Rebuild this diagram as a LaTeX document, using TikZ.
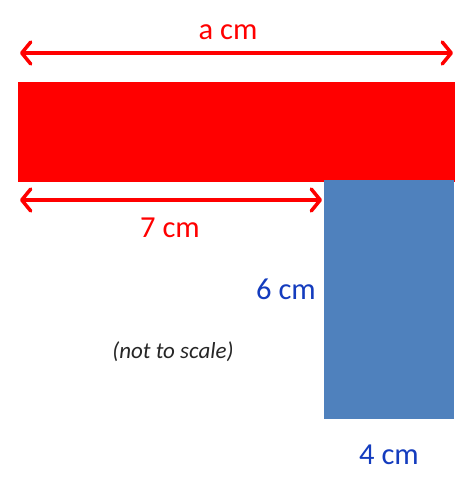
\documentclass[tikz,border=0pt]{standalone}
\usepackage{fontspec}
\setmainfont{Carlito}
\usetikzlibrary{arrows.meta}
\definecolor{myred}{RGB}{255,0,0}
\definecolor{myblue}{RGB}{79,129,189}
\definecolor{txtblue}{RGB}{20,60,190}
\tikzset{
  dimarrow/.style={draw=myred, line width=3.5pt, line cap=round,
    {Straight Barb[length=9pt,width=22pt,line cap=round,line join=round]}-{Straight Barb[length=9pt,width=22pt,line cap=round,line join=round]}},
  redlbl/.style={text=myred, font=\fontsize{30.5}{33}\selectfont, inner sep=0pt},
  bluelbl/.style={text=txtblue, font=\fontsize{30.5}{33}\selectfont, inner sep=0pt},
  note/.style={text=black!85, font=\fontsize{23}{26}\selectfont\itshape, inner sep=0pt}
}
\begin{document}
\begin{tikzpicture}[x=1pt,y=1pt]
\useasboundingbox (0,0) rectangle (474,480);
\fill[myred] (18,298) rectangle (455,398);
\fill[myblue] (324,61) rectangle (454,300);
\coordinate (a1) at (20,427);
\coordinate (a2) at (453,427);
\coordinate (b1) at (20,280);
\coordinate (b2) at (322,280);
\draw[dimarrow] (a1) -- (a2);
\draw[dimarrow] (b1) -- (b2);
\node[redlbl] (la) at (228,448) {a cm};
\node[redlbl] (l7) at (170,252) {7 cm};
\node[bluelbl] (l6) at (286,191) {6 cm};
\node[bluelbl] (l4) at (389,25) {4 cm};
\node[note] (ns) at (173,128) {(not to scale)};
\end{tikzpicture}
\end{document}
